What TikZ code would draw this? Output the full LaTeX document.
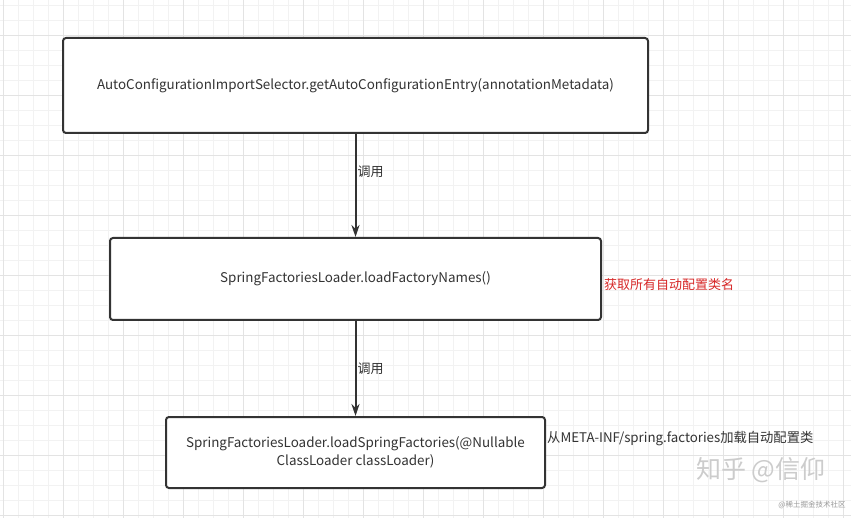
\documentclass[tikz,border=0pt]{standalone}
\usepackage{fontspec}
\setmainfont{Noto Sans CJK SC}
\usetikzlibrary{arrows.meta}
\definecolor{notered}{RGB}{215,40,40}
\definecolor{ink}{RGB}{51,51,51}

\begin{document}
\begin{tikzpicture}[x=1pt, y=-1pt,
   every node/.style={font=\fontsize{13}{17}\selectfont, text=ink},
   callbox/.style={draw=ink, line width=2pt, rounded corners=3pt, fill=white,
                   align=center, inner sep=0pt, font=\fontsize{13.4}{17.5}\selectfont},
   call/.style={draw=ink, line width=2pt, -{Stealth[length=12pt,width=8pt]}},
   note/.style={anchor=west, inner sep=1pt},
   minorline/.style={draw=gray!10, line width=0.8pt},
   majorline/.style={draw=gray!22, line width=0.8pt}]

\useasboundingbox (0,0) rectangle (851,518);
\fill[white] (0,0) rectangle (851,518);

% grid
\foreach \x in {3,18,...,851} \draw[minorline] (\x,0) -- (\x,518);
\foreach \y in {5,20,...,518} \draw[minorline] (0,\y) -- (851,\y);
\foreach \x in {3,63,...,851} \draw[majorline] (\x,0) -- (\x,518);
\foreach \y in {35,95,...,518} \draw[majorline] (0,\y) -- (851,\y);

% call chain
\node[callbox, minimum width=585pt, minimum height=95pt] (entry) at (355.5,85.5)
   {AutoConfigurationImportSelector.getAutoConfigurationEntry(annotationMetadata)};
\node[callbox, minimum width=491pt, minimum height=82pt] (names) at (355.5,279)
   {SpringFactoriesLoader.loadFactoryNames()};
\node[callbox, minimum width=379pt, minimum height=71pt] (factories) at (355.5,452.5)
   {SpringFactoriesLoader.loadSpringFactories(@Nullable\\ClassLoader classLoader)};

\draw[call] (entry) -- node[note, pos=0.37, name=call1] {调用} (names);
\draw[call] (names) -- node[note, pos=0.5, name=call2] {调用} (factories);

% notes
\node[note, text=notered] (namesnote) at (603,285) {获取所有自动配置类名};
\node[note, font=\fontsize{13.3}{17}\selectfont] (factoriesnote) at (546,439)
   {从META-INF/spring.factories加载自动配置类};

% watermark
\node[font=\fontsize{25}{28}\selectfont, text=gray!40] (mark) at (761,470) {知乎 @信仰};
\node[font=\fontsize{7.5}{9}\selectfont, text=gray!80] (site) at (812,505) {@稀土掘金技术社区};

\end{tikzpicture}
\end{document}
